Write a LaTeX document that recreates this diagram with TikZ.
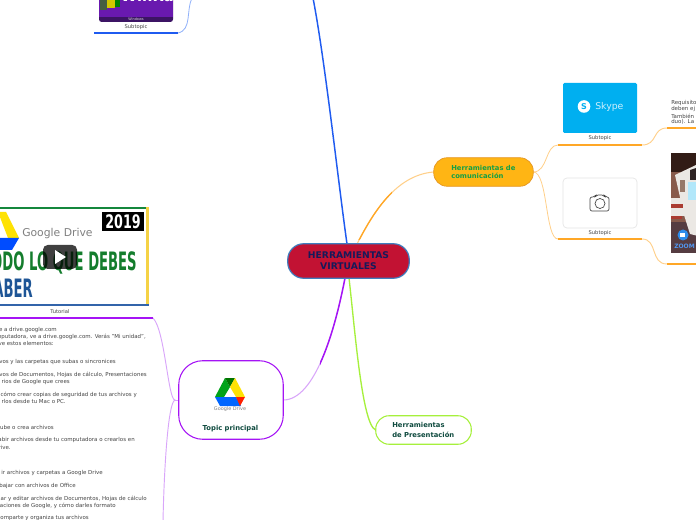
\documentclass[tikz,border=0pt]{standalone}
\usepackage{graphicx}
\usepackage{fontspec}
\setmainfont{DejaVu Sans}
\definecolor{purp}{HTML}{A514F5}
\definecolor{purl}{HTML}{D9A6FA}
\definecolor{orng}{HTML}{FFA726}
\definecolor{orgl}{HTML}{FFD08A}
\definecolor{blu}{HTML}{1F5BF0}
\definecolor{blul}{HTML}{8FB0FA}
\definecolor{grn}{HTML}{A6F03C}
\definecolor{darkt}{HTML}{0E4A3E}
\definecolor{gtxt}{HTML}{444444}
\definecolor{skype}{HTML}{00AFF0}
\definecolor{cfill}{RGB}{194,18,51}
\definecolor{cdraw}{RGB}{62,125,190}
\definecolor{ctxt}{RGB}{22,26,90}
\definecolor{ofill}{RGB}{255,181,20}
\definecolor{otxt}{RGB}{20,160,70}
\definecolor{wdark}{RGB}{60,20,100}
\definecolor{wmid}{RGB}{105,25,175}
\definecolor{wbook}{RGB}{70,95,65}
\definecolor{ygreen}{RGB}{20,135,60}
\definecolor{yyel}{RGB}{245,210,70}
\definecolor{yblue}{RGB}{50,100,170}
\definecolor{ytg}{RGB}{20,125,45}
\definecolor{ytb}{RGB}{30,85,150}
\definecolor{ph0}{RGB}{50,28,22}
\definecolor{ph1}{RGB}{135,90,75}
\definecolor{ph2}{RGB}{235,232,228}
\definecolor{ph4}{RGB}{150,120,105}
\definecolor{ph5}{RGB}{45,35,35}
\definecolor{ph6}{RGB}{170,60,50}
\definecolor{ph7}{RGB}{45,140,235}
\definecolor{ph8}{RGB}{80,150,240}
\definecolor{ph9}{RGB}{85,60,65}
\tikzset{
 x=0.75pt,y=-0.75pt,
 small/.style={font=\fontsize{4.1pt}{4.6pt}\selectfont,text=gtxt,inner sep=0pt},
 endr/.style={small,anchor=east},
 startl/.style={small,anchor=west},
 captxt/.style={small,anchor=center,font=\fontsize{3.9pt}{4.6pt}\selectfont},
 link/.style={line cap=round,line width=0.6pt},
 bigthumb/.style={font=\bfseries\fontsize{19pt}{20pt}\selectfont,inner sep=0pt,anchor=east},
}
\begin{document}
\begin{tikzpicture}
\useasboundingbox (0,0) rectangle (696,520);
\clip (0,0) rectangle (696,520);
\fill[white] (0,0) rectangle (696,520);
% named anchors
\coordinate (bt) at (313,-2);
\coordinate (wl) at (94,33);
\coordinate (wm) at (178,33);
\coordinate (ctop) at (192,-2);
\coordinate (tl) at (-2,318);
\coordinate (tm) at (153,318);
\coordinate (fork) at (175,400);
\coordinate (fe) at (163,522);
\coordinate (ol) at (558,145);
\coordinate (om) at (642,145);
\coordinate (oe) at (698,128);
\coordinate (oc) at (667,128);
\coordinate (pl) at (558,239);
\coordinate (pm) at (642,239);
\coordinate (pc) at (667,264);
\coordinate (pe) at (698,264);
\coordinate (ct) at (357,244);
\coordinate (cb) at (345,278);
% main nodes
\node[minimum width=90.75pt,minimum height=25.5pt,inner sep=0pt] (central) at (348.5,261) {};
\node[minimum width=74.25pt,minimum height=21pt,inner sep=0pt] (comm) at (483.5,172) {};
\node[minimum width=71.25pt,minimum height=21pt,inner sep=0pt] (pres) at (423.5,430) {};
\node[minimum width=78pt,minimum height=58.5pt,inner sep=0pt] (topic) at (231,400) {};
% connectors
\draw[blu,line width=1.1pt] (347,244) .. controls (338,180) and (325,60) .. (bt);
\draw[orgl,line width=.8pt] (ct) .. controls (372,215) and (395,175) .. (comm.west);
\begin{scope}
\clip (340,240) rectangle (392,190);
\draw[orng,line width=1pt] (ct) .. controls (372,215) and (395,175) .. (comm.west);
\end{scope}
\draw[grn,line width=1pt] (349,278) .. controls (355,330) and (362,425) .. (pres.west);
\draw[purl,line width=.8pt] (cb) .. controls (335,330) and (315,400) .. (topic.east);
\begin{scope}
\clip (320,275) rectangle (350,370);
\draw[purp,line width=1.1pt] (cb) .. controls (335,330) and (315,400) .. (topic.east);
\end{scope}
\draw[purl,link] (topic.west) -- (fork);
\draw[purl,link,line width=.7pt] (fork) .. controls (168,400) and (165,330) .. (tm);
\draw[purl,link,line width=.7pt] (fork) .. controls (168,402) and (164,470) .. (fe);
\draw[purp,line width=1.3pt] (tl) -- (tm);
\draw[blul,link] (wm) .. controls (192,30) and (186,10) .. (ctop);
\draw[blu,line width=.8pt] (wl) -- (wm);
\draw[orgl,link] (comm.east) .. controls (548,172) and (545,145) .. (ol);
\draw[orgl,link] (comm.east) .. controls (548,172) and (545,239) .. (pl);
\draw[orng,line width=1.2pt] (ol) -- (om);
\draw[orng,line width=1.2pt] (pl) -- (pm);
\draw[orgl,line width=.7pt] (om) .. controls (658,145) and (652,128) .. (oc);
\draw[orgl,line width=.7pt] (pm) .. controls (658,239) and (650,264) .. (pc);
\draw[orng,line width=1.2pt] (oc) -- (oe);
\draw[orng,line width=1.2pt] (pc) -- (pe);
% central
\draw[fill=cfill,draw=cdraw,line width=.9pt,rounded corners=12pt] (central.south west) rectangle (central.north east);
\node[align=center,font=\bfseries\fontsize{6.9pt}{8.3pt}\selectfont,text=ctxt] (ctext) at (central.center) {HERRAMIENTAS\\VIRTUALES};
% comm
\draw[fill=ofill,draw=orng!90!black,line width=.5pt,rounded corners=10pt] (comm.south west) rectangle (comm.north east);
\node[align=left,anchor=west,font=\bfseries\fontsize{5.1pt}{6.2pt}\selectfont,text=otxt,inner sep=0pt] (commt) at (451,172) {Herramientas de\\comunicación};
% pres
\draw[fill=white,draw=grn,line width=.8pt,rounded corners=10pt] (pres.south west) rectangle (pres.north east);
\node[align=left,anchor=west,font=\bfseries\fontsize{5.1pt}{6.9pt}\selectfont,text=darkt,inner sep=0pt] (prest) at (392,430) {Herramientas\\de Presentación};
% topic
\draw[fill=white,draw=purp,line width=.8pt,rounded corners=18pt] (topic.south west) rectangle (topic.north east);
\fill[green!60!black!90!cyan] (225,378) -- (230,387) -- (224,397) -- (215,397) -- cycle;
\fill[green!45!black] (225,378) -- (235,378) -- (230,387) -- cycle;
\fill[yellow!85!orange] (235,378) -- (245,397) -- (236,397) -- (230,387) -- cycle;
\fill[blue!60!cyan] (215,397) -- (236,397) -- (241,406) -- (220,406) -- cycle;
\fill[red!75!orange] (236,397) -- (245,397) -- (240,406) -- cycle;
\node[font=\fontsize{3.7pt}{4pt}\selectfont,text=gray,inner sep=0pt] (gdl) at (230,409) {Google Drive};
\node[font=\bfseries\fontsize{5.1pt}{6pt}\selectfont,text=darkt,inner sep=0pt] (topict) at (230.5,429) {Topic principal};
% winrar image
\fill[rounded corners=2pt,fill=wdark] (99,-6) rectangle (173,22);
\fill[wmid] (99,-2) rectangle (173,17);
\fill[wbook] (100,0) rectangle (107,10);
\fill[yellow!60!olive] (107,0) rectangle (115,8);
\fill[green!50!black] (115,0) rectangle (120,7);
\node[font=\bfseries\fontsize{11pt}{11pt}\selectfont,text=white,inner sep=0pt,anchor=base] (wint) at (151,2) {WinRar};
\node[font=\fontsize{2.6pt}{3pt}\selectfont,text=white!85!black,inner sep=0pt] (wins) at (136,19) {Windows};
\node[captxt] (c1) at (136,27) {Subtopic};
% youtube thumb
\fill[white] (-2,207) rectangle (148,306);
\fill[ygreen] (-2,207) rectangle (147,209);
\fill[yyel] (146,207) rectangle (149,306);
\fill[yblue] (-2,304.5) rectangle (149,306.5);
\fill[yellow!85!orange] (-2,212) -- (6,212) -- (19,238) -- (8,238) -- cycle;
\fill[blue!70!cyan] (-2,238) -- (19,238) -- (12,250) -- (-2,250) -- cycle;
\fill[black] (102,212) rectangle (144,231);
\node[inner sep=0pt,text=white,font=\bfseries\fontsize{14pt}{14pt}\selectfont] (y19) at (123,222) {\scalebox{.68}[1]{2019}};
\node[font=\fontsize{8.1pt}{9pt}\selectfont,text=gray,inner sep=0pt,anchor=west] (ygd) at (22,234) {Google Drive};
\node[bigthumb,text=ytg] (yt1) at (137,262.5) {\scalebox{.52}[1]{ODO LO QUE DEBES}};
\node[bigthumb,text=ytb] (yt2) at (33,288) {\scalebox{.52}[1]{ABER}};
\fill[black,opacity=.75,rounded corners=3.5pt] (43,245) rectangle (77,269);
\fill[white] (55,250) -- (55,264) -- (66,257) -- cycle;
\node[captxt] (tt) at (60,312) {Tutorial};
% left text
\node[endr] (l1) at (57,330) {e a drive.google.com};
\node[endr] (l2) at (146,336.5) {mputadora, ve a drive.google.com. Verás "Mi unidad",};
\node[endr] (l3) at (54,343) {ve estos elementos:};
\node[endr] (l4) at (116,362) {vos y las carpetas que subas o sincronices};
\node[endr] (l5) at (147,375) {vos de Documentos, Hojas de cálculo, Presentaciones};
\node[endr] (l6) at (70,382) {rios de Google que crees};
\node[endr] (l7) at (137,395) {cómo crear copias de seguridad de tus archivos y};
\node[endr] (l8) at (66,401.5) {rlos desde tu Mac o PC.};
\node[endr] (l9) at (54,427) {ube o crea archivos};
\node[endr] (l10) at (135,440) {abir archivos desde tu computadora o crearlos en};
\node[endr] (l11) at (11,447) {rive.};
\node[endr] (l12) at (103,473) {ir archivos y carpetas a Google Drive};
\node[endr] (l13) at (76,486) {bajar con archivos de Office};
\node[endr] (l14) at (147,499) {ar y editar archivos de Documentos, Hojas de cálculo};
\node[endr] (l15) at (116,505.5) {aciones de Google, y cómo darles formato};
\node[endr] (l16) at (89,518) {comparte y organiza tus archivos};
% skype
\fill[skype,rounded corners=1pt] (563,83) rectangle (637,133);
\fill[white] (584,106.5) circle (6.3);
\node[font=\bfseries\fontsize{6pt}{6pt}\selectfont,text=skype,inner sep=0pt] (sks) at (584,106.5) {S};
\node[font=\fontsize{7pt}{8pt}\selectfont,text=white!80!skype,inner sep=0pt,anchor=west] (skt) at (595,107) {Skype};
\node[captxt] (c2) at (600,138) {Subtopic};
% camera
\draw[draw=black!10,fill=white,line width=.5pt,rounded corners=3pt] (563,178) rectangle (637,228);
\draw[gtxt,line width=.5pt,rounded corners=1.5pt] (590,197) -- (595,197) -- (596,195) -- (604,195) -- (605,197) -- (609,197) -- (609,211) -- (590,211) -- cycle;
\draw[gtxt,line width=.5pt] (600,203.5) circle (5);
\node[captxt] (c3) at (600,233) {Subtopic};
% right text
\node[startl] (r1) at (671,103) {Requisito};
\node[startl] (r2) at (671,109) {deben ej};
\node[startl] (r3) at (671,116) {También};
\node[startl] (r4) at (671,122) {duo). La};
% photo
\fill[ph0] (671,153) rectangle (698,253);
\fill[ph1] (671,172) rectangle (698,222);
\fill[ph9] (671,222) rectangle (698,253);
\fill[ph2] (675,175) -- (696,165) -- (698,165) -- (698,236) -- (690,234) -- (684,215) -- cycle;
\fill[ph4] (680,180) rectangle (685,192);
\fill[ph5] (690,170) -- (696,168) -- (696,180) -- (690,180) -- cycle;
\fill[skype!30!white] (688,182) rectangle (696,200);
\fill[ph2] (671,198) rectangle (683,204);
\fill[ph6] (671,204) rectangle (683,208);
\fill[ph2] (671,208) rectangle (686,216);
\fill[ph6] (671,216) rectangle (682,219);
\fill[ph7] (683,235) circle (5.5);
\fill[white] (680,233) rectangle (684.5,237);
\node[font=\bfseries\fontsize{4.5pt}{5pt}\selectfont,text=ph8,inner sep=0pt,anchor=west] (zm) at (674,246) {ZOOM};
\end{tikzpicture}
\end{document}
